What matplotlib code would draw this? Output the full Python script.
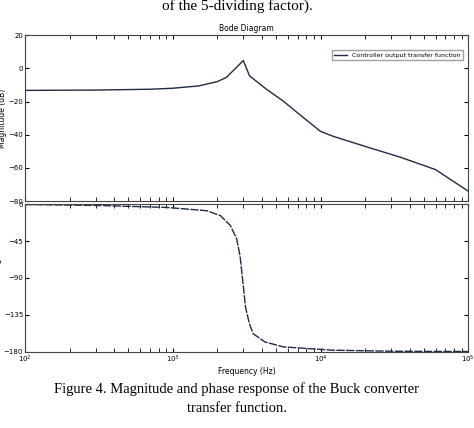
import numpy as np
import matplotlib.pyplot as plt

# values
freq = [100, 300, 700, 1000, 1500, 2000, 2300, 2700, 3000, 3300, 4300, 5600,
        7250, 10000, 12200, 20000, 34600, 60000, 100000]
mag_db = [-13.3, -13.1, -12.6, -12.0, -10.6, -8.0, -5.5, 0.6, 4.7, -4.5, -12.6, -19.8,
          -28.0, -38.0, -41.0, -47.0, -53.5, -61.0, -74.0]
phase_freq = [100, 300, 910, 1700, 2100, 2450, 2700, 2850, 3000, 3100, 3300, 3500,
              4200, 5600, 12000, 30000, 100000]
phase_deg = [-0.5, -1.5, -4.0, -8.0, -14.0, -26.0, -42.0, -63.0, -100.0, -125.0, -146.0,
             -158.0, -168.0, -174.0, -178.0, -179.3, -179.7]
mag_ticks = [20, 0, -20, -40, -60, -80]
phase_ticks = [0, -45, -90, -135, -180]

plt.rcParams['font.family'] = 'DejaVu Sans'
fig = plt.figure(figsize=(4.74, 4.28), dpi=100)
ax1 = fig.add_axes([0.053, 0.53, 0.935, 0.388])
ax2 = fig.add_axes([0.053, 0.178, 0.935, 0.345], sharex=ax1)

line_color = '#1f2a44'
ax1.semilogx(freq, mag_db, color=line_color, lw=1.0,
             label='Controller output transfer function')
ax2.semilogx(phase_freq, phase_deg, color=line_color, lw=1.0, dashes=(6, 1))

ax1.set_xlim(100, 100000)
ax1.set_ylim(-80, 20)
ax1.set_yticks(mag_ticks)
ax2.set_ylim(-180, 0)
ax2.set_yticks(phase_ticks)

for ax in (ax1, ax2):
    ax.tick_params(labelsize=5, length=3, pad=1.5, direction='in', which='both',
                   top=True, right=True)
    for s in ax.spines.values():
        s.set_linewidth(0.8)
        s.set_color('#444444')
ax1.tick_params(labelbottom=False)

ax1.set_title('Bode Diagram', fontsize=5.5, pad=3)
ax1.set_ylabel('Magnitude (dB)', fontsize=5.5, labelpad=1)
ax2.set_ylabel('Phase (deg)', fontsize=5.5, labelpad=1)
ax2.set_xlabel('Frequency (Hz)', fontsize=5.5, labelpad=1)
ax1.legend(loc='upper right', fontsize=4.5, frameon=True, fancybox=False,
           edgecolor='#888888', bbox_to_anchor=(0.995, 0.93))

fig.text(0.5, 0.985, 'of the 5-dividing factor).', ha='center', va='center',
         family='Liberation Serif', fontsize=11)
fig.text(0.5, 0.092, 'Figure 4. Magnitude and phase response of the Buck converter',
         ha='center', va='center', family='Liberation Serif', fontsize=10.5)
fig.text(0.5, 0.045, 'transfer function.', ha='center', va='center',
         family='Liberation Serif', fontsize=10.5)

fig.savefig('out.png', dpi=100)
